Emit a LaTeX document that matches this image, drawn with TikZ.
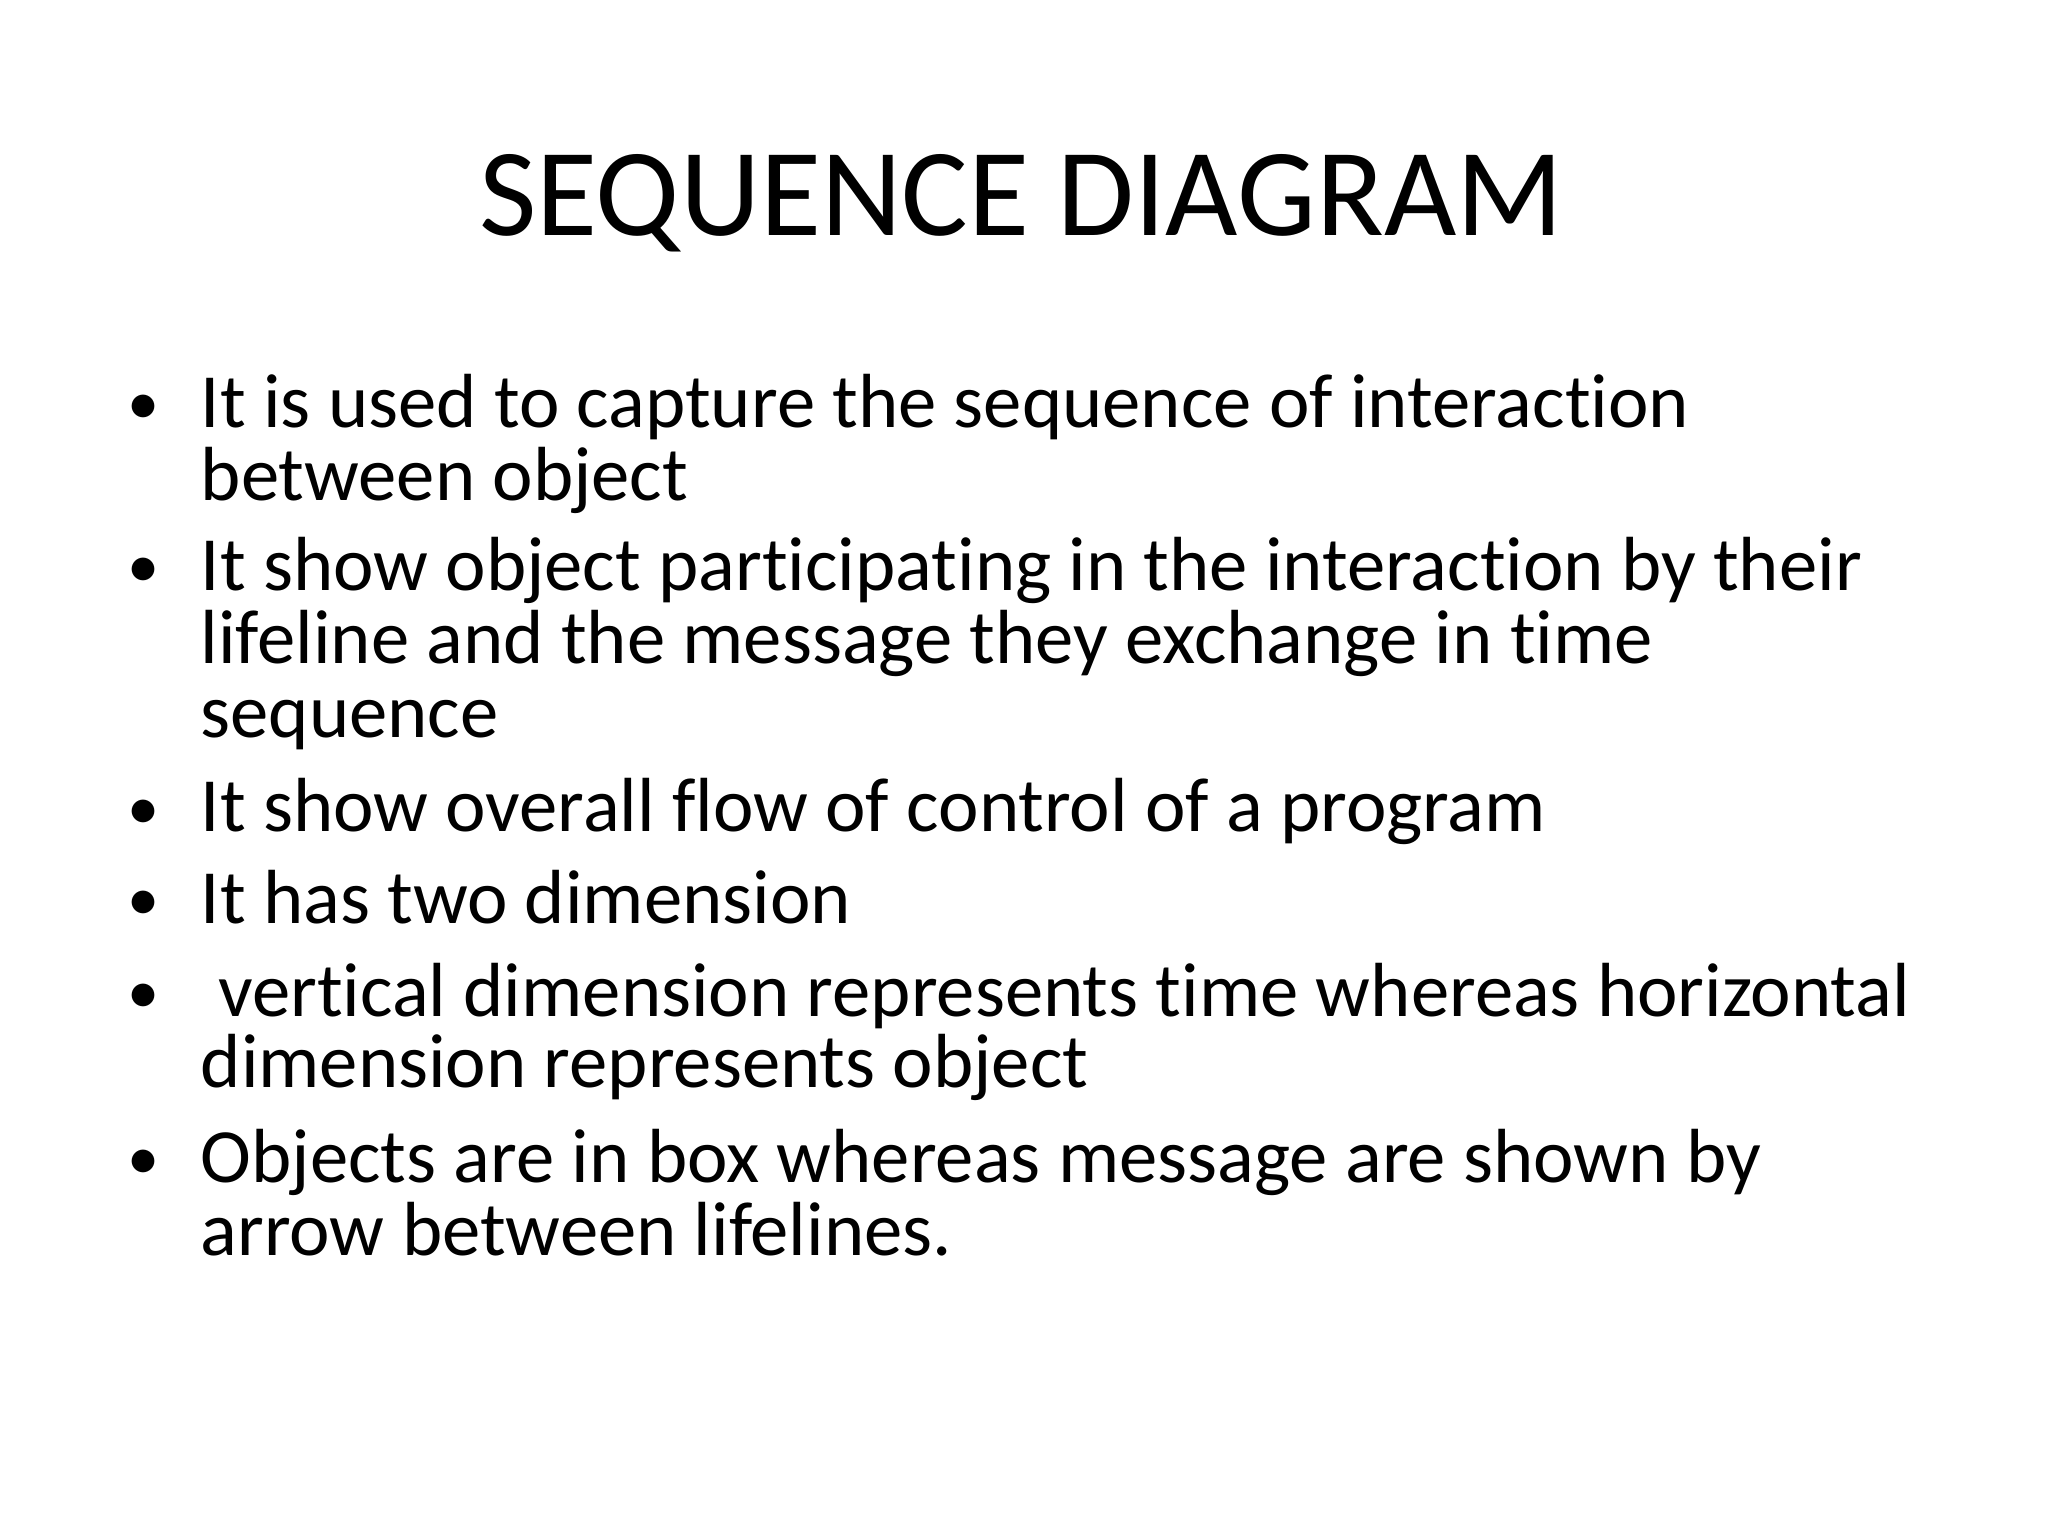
\documentclass[tikz,border=0pt]{standalone}
\usepackage{fontspec}
\setmainfont{Carlito}[Ligatures={NoCommon,TeX}]
\begin{document}
\begin{tikzpicture}[x=0.01cm,y=-0.01cm,
  body/.style={anchor=base west,inner sep=0pt,font=\fontsize{16.7}{17}\selectfont},
  bul/.style={anchor=base west,inner sep=0pt,font=\fontsize{14}{15}\selectfont}]
\useasboundingbox[fill=white] (0,0) rectangle (1568,1176);
\node[anchor=base,inner sep=0pt,font=\fontsize{27.2}{29}\selectfont] (title) at (782,180) {SEQUENCE DIAGRAM};
\foreach \y/\n in {325/b1,450/b2,635/b3,705/b4,776/b5,903/b6}{
  \node[bul] (\n) at (97,\y) {•};
}
\node[body] (l1) at (153,327) {It is used to capture the sequence of interaction};
\node[body] (l2) at (153,383) {between object};
\node[body] (l3) at (153,452) {It show object participating in the interaction by their};
\node[body] (l4) at (153,508) {lifeline and the message they exchange in time};
\node[body] (l5) at (153,565) {sequence};
\node[body] (l6) at (153,637) {It show overall flow of control of a program};
\node[body] (l7) at (153,707) {It has two dimension};
\node[body] (l8) at (153,778) {\ vertical dimension represents time whereas horizontal};
\node[body] (l9) at (153,833) {dimension represents object};
\node[body] (l10) at (153,905) {Objects are in box whereas message are shown by};
\node[body] (l11) at (153,961) {arrow between lifelines.};
\end{tikzpicture}
\end{document}
